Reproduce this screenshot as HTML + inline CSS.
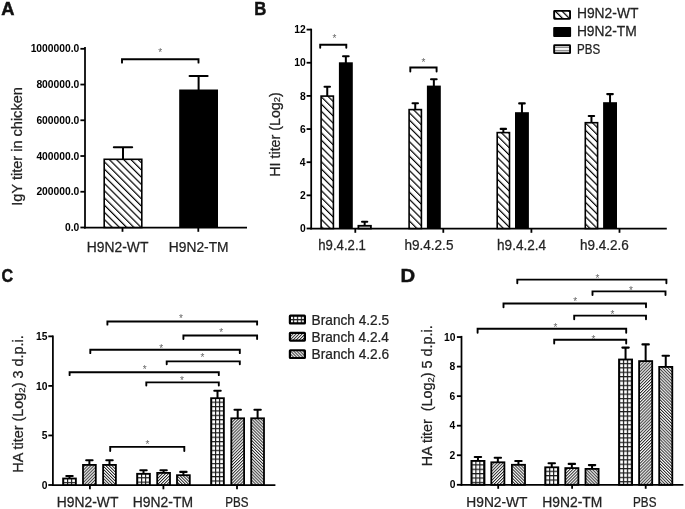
<!DOCTYPE html>
<html><head><meta charset="utf-8"><title>Figure</title>
<style>html,body{margin:0;padding:0;background:#fff;}body{width:685px;height:509px;overflow:hidden;}svg{display:block;}</style>
</head><body>
<svg width="685" height="509" viewBox="0 0 685 509" font-family="Liberation Sans, Arial, sans-serif">
<defs>
<pattern id="hb" patternUnits="userSpaceOnUse" width="5.1" height="10" patternTransform="rotate(-45)"><rect width="5.1" height="10" fill="#fff"/><line x1="0.6" y1="0" x2="0.6" y2="10" stroke="#000" stroke-width="1.2"/></pattern>
<pattern id="fs" patternUnits="userSpaceOnUse" width="2.16" height="10" patternTransform="rotate(45)"><rect width="2.16" height="10" fill="#fff"/><line x1="0.5" y1="0" x2="0.5" y2="10" stroke="#222" stroke-width="0.95"/></pattern>
<pattern id="fb" patternUnits="userSpaceOnUse" width="2.16" height="10" patternTransform="rotate(-45)"><rect width="2.16" height="10" fill="#fff"/><line x1="0.5" y1="0" x2="0.5" y2="10" stroke="#222" stroke-width="0.95"/></pattern>
<pattern id="gr" patternUnits="userSpaceOnUse" width="4" height="4.35"><rect width="4" height="4.35" fill="#fff"/><rect x="0" y="0" width="1.3" height="4.35" fill="#111"/><rect x="0" y="0" width="4" height="1.3" fill="#111"/></pattern>
<pattern id="hbL" patternUnits="userSpaceOnUse" x="0.15" width="4.8" height="10" patternTransform="rotate(-45)"><rect width="4.8" height="10" fill="#fff"/><line x1="0.6" y1="0" x2="0.6" y2="10" stroke="#000" stroke-width="1.3"/></pattern>
<pattern id="pbsL" patternUnits="userSpaceOnUse" y="0.3" width="4" height="3.3"><rect width="4" height="3.3" fill="#fff"/><rect x="0" y="0" width="4" height="1.6" fill="#8a8a8a"/></pattern>
<pattern id="ha" patternUnits="userSpaceOnUse" x="-0.45" width="5.1" height="10" patternTransform="rotate(-45)"><rect width="5.1" height="10" fill="#fff"/><line x1="0.6" y1="0" x2="0.6" y2="10" stroke="#000" stroke-width="1.2"/></pattern>
<pattern id="pbs" patternUnits="userSpaceOnUse" width="4" height="3.4"><rect width="4" height="3.4" fill="#fff"/><rect x="0" y="0" width="4" height="1.5" fill="#999"/></pattern>
</defs>
<rect width="685" height="509" fill="#fff"/>
<line x1="85" y1="47.1" x2="85" y2="228.38" stroke="#000" stroke-width="1.75" stroke-linecap="butt"/>
<line x1="84.12" y1="227.5" x2="247" y2="227.5" stroke="#000" stroke-width="1.75" stroke-linecap="butt"/>
<line x1="80.4" y1="227.5" x2="85" y2="227.5" stroke="#000" stroke-width="1.8" stroke-linecap="butt"/>
<line x1="80.4" y1="191.76" x2="85" y2="191.76" stroke="#000" stroke-width="1.8" stroke-linecap="butt"/>
<line x1="80.4" y1="156.02" x2="85" y2="156.02" stroke="#000" stroke-width="1.8" stroke-linecap="butt"/>
<line x1="80.4" y1="120.28" x2="85" y2="120.28" stroke="#000" stroke-width="1.8" stroke-linecap="butt"/>
<line x1="80.4" y1="84.54" x2="85" y2="84.54" stroke="#000" stroke-width="1.8" stroke-linecap="butt"/>
<line x1="80.4" y1="48.8" x2="85" y2="48.8" stroke="#000" stroke-width="1.8" stroke-linecap="butt"/>
<line x1="122.5" y1="227.5" x2="122.5" y2="231.8" stroke="#000" stroke-width="1.8" stroke-linecap="butt"/>
<line x1="198.3" y1="227.5" x2="198.3" y2="231.8" stroke="#000" stroke-width="1.8" stroke-linecap="butt"/>
<line x1="123" y1="159.5" x2="123" y2="147.3" stroke="#000" stroke-width="2.0" stroke-linecap="butt"/>
<line x1="113.85" y1="147.3" x2="132.15" y2="147.3" stroke="#000" stroke-width="2.1" stroke-linecap="round"/>
<rect x="104.2" y="159.3" width="37.6" height="68.2" fill="url(#ha)" stroke="#000" stroke-width="1.6"/>
<line x1="198.6" y1="90.5" x2="198.6" y2="76" stroke="#000" stroke-width="2.0" stroke-linecap="butt"/>
<line x1="189.6" y1="76" x2="207.6" y2="76" stroke="#000" stroke-width="2.1" stroke-linecap="round"/>
<rect x="179.2" y="89.5" width="38.8" height="138" fill="#000"/>
<path d="M122,62.65 V59.2 H198.5 V62.65" fill="none" stroke="#000" stroke-width="1.9" stroke-linejoin="miter" stroke-linecap="round"/>
<line x1="311.2" y1="28.7" x2="311.2" y2="229.38" stroke="#000" stroke-width="1.75" stroke-linecap="butt"/>
<line x1="310.32" y1="228.5" x2="666.8" y2="228.5" stroke="#000" stroke-width="1.75" stroke-linecap="butt"/>
<line x1="306.6" y1="228.5" x2="311.2" y2="228.5" stroke="#000" stroke-width="1.8" stroke-linecap="butt"/>
<line x1="306.6" y1="195.35" x2="311.2" y2="195.35" stroke="#000" stroke-width="1.8" stroke-linecap="butt"/>
<line x1="306.6" y1="162.2" x2="311.2" y2="162.2" stroke="#000" stroke-width="1.8" stroke-linecap="butt"/>
<line x1="306.6" y1="129.05" x2="311.2" y2="129.05" stroke="#000" stroke-width="1.8" stroke-linecap="butt"/>
<line x1="306.6" y1="95.9" x2="311.2" y2="95.9" stroke="#000" stroke-width="1.8" stroke-linecap="butt"/>
<line x1="306.6" y1="62.75" x2="311.2" y2="62.75" stroke="#000" stroke-width="1.8" stroke-linecap="butt"/>
<line x1="306.6" y1="29.6" x2="311.2" y2="29.6" stroke="#000" stroke-width="1.8" stroke-linecap="butt"/>
<line x1="355.3" y1="228.5" x2="355.3" y2="232.8" stroke="#000" stroke-width="1.8" stroke-linecap="butt"/>
<line x1="443.3" y1="228.5" x2="443.3" y2="232.8" stroke="#000" stroke-width="1.8" stroke-linecap="butt"/>
<line x1="531.4" y1="228.5" x2="531.4" y2="232.8" stroke="#000" stroke-width="1.8" stroke-linecap="butt"/>
<line x1="619.5" y1="228.5" x2="619.5" y2="232.8" stroke="#000" stroke-width="1.8" stroke-linecap="butt"/>
<line x1="327.25" y1="96.3" x2="327.25" y2="86.8" stroke="#000" stroke-width="2.0" stroke-linecap="butt"/>
<line x1="324.55" y1="86.8" x2="329.95" y2="86.8" stroke="#000" stroke-width="2.1" stroke-linecap="round"/>
<rect x="321.1" y="96.1" width="12.3" height="132.4" fill="url(#hb)" stroke="#000" stroke-width="1.6"/>
<line x1="345.85" y1="63.3" x2="345.85" y2="56.2" stroke="#000" stroke-width="2.0" stroke-linecap="butt"/>
<line x1="343.05" y1="56.2" x2="348.65" y2="56.2" stroke="#000" stroke-width="2.1" stroke-linecap="round"/>
<rect x="338.9" y="62.3" width="13.9" height="166.2" fill="#000"/>
<line x1="415.25" y1="109.8" x2="415.25" y2="103.2" stroke="#000" stroke-width="2.0" stroke-linecap="butt"/>
<line x1="412.55" y1="103.2" x2="417.95" y2="103.2" stroke="#000" stroke-width="2.1" stroke-linecap="round"/>
<rect x="409.1" y="109.6" width="12.3" height="118.9" fill="url(#hb)" stroke="#000" stroke-width="1.6"/>
<line x1="433.85" y1="86.6" x2="433.85" y2="79.3" stroke="#000" stroke-width="2.0" stroke-linecap="butt"/>
<line x1="431.05" y1="79.3" x2="436.65" y2="79.3" stroke="#000" stroke-width="2.1" stroke-linecap="round"/>
<rect x="426.9" y="85.6" width="13.9" height="142.9" fill="#000"/>
<line x1="503.35" y1="132.8" x2="503.35" y2="128.9" stroke="#000" stroke-width="2.0" stroke-linecap="butt"/>
<line x1="500.65" y1="128.9" x2="506.05" y2="128.9" stroke="#000" stroke-width="2.1" stroke-linecap="round"/>
<rect x="497.2" y="132.6" width="12.3" height="95.9" fill="url(#hb)" stroke="#000" stroke-width="1.6"/>
<line x1="521.95" y1="113.2" x2="521.95" y2="103.4" stroke="#000" stroke-width="2.0" stroke-linecap="butt"/>
<line x1="519.15" y1="103.4" x2="524.75" y2="103.4" stroke="#000" stroke-width="2.1" stroke-linecap="round"/>
<rect x="515" y="112.2" width="13.9" height="116.3" fill="#000"/>
<line x1="591.45" y1="122.9" x2="591.45" y2="116" stroke="#000" stroke-width="2.0" stroke-linecap="butt"/>
<line x1="588.75" y1="116" x2="594.15" y2="116" stroke="#000" stroke-width="2.1" stroke-linecap="round"/>
<rect x="585.3" y="122.7" width="12.3" height="105.8" fill="url(#hb)" stroke="#000" stroke-width="1.6"/>
<line x1="610.05" y1="103.2" x2="610.05" y2="94.1" stroke="#000" stroke-width="2.0" stroke-linecap="butt"/>
<line x1="607.25" y1="94.1" x2="612.85" y2="94.1" stroke="#000" stroke-width="2.1" stroke-linecap="round"/>
<rect x="603.1" y="102.2" width="13.9" height="126.3" fill="#000"/>
<line x1="364.65" y1="225.9" x2="364.65" y2="221.7" stroke="#000" stroke-width="2.0" stroke-linecap="butt"/>
<line x1="362.05" y1="221.7" x2="367.25" y2="221.7" stroke="#000" stroke-width="2.1" stroke-linecap="round"/>
<rect x="358.4" y="225.8" width="12.5" height="2.7" fill="#fff" stroke="#000" stroke-width="1.8"/>
<path d="M320.2,47.75 V44.7 H346.3 V47.75" fill="none" stroke="#000" stroke-width="1.9" stroke-linejoin="miter" stroke-linecap="round"/>
<path d="M410.3,71.45 V67.5 H436.6 V71.45" fill="none" stroke="#000" stroke-width="1.9" stroke-linejoin="miter" stroke-linecap="round"/>
<rect x="554.15" y="10.85" width="15.9" height="8.0" rx="0.5" fill="url(#hbL)" stroke="#000" stroke-width="1.9"/>
<rect x="553.2" y="27.00" width="17.9" height="9.9" rx="1" fill="#000"/>
<rect x="554.15" y="45.15" width="15.9" height="8.0" rx="0.5" fill="url(#pbsL)" stroke="#000" stroke-width="1.9"/>
<line x1="52.9" y1="335.5" x2="52.9" y2="485.88" stroke="#000" stroke-width="1.75" stroke-linecap="butt"/>
<line x1="52.02" y1="485" x2="275.4" y2="485" stroke="#000" stroke-width="1.75" stroke-linecap="butt"/>
<line x1="48.3" y1="485" x2="52.9" y2="485" stroke="#000" stroke-width="1.8" stroke-linecap="butt"/>
<line x1="48.3" y1="435.45" x2="52.9" y2="435.45" stroke="#000" stroke-width="1.8" stroke-linecap="butt"/>
<line x1="48.3" y1="385.9" x2="52.9" y2="385.9" stroke="#000" stroke-width="1.8" stroke-linecap="butt"/>
<line x1="48.3" y1="336.35" x2="52.9" y2="336.35" stroke="#000" stroke-width="1.8" stroke-linecap="butt"/>
<line x1="89.9" y1="485" x2="89.9" y2="489.3" stroke="#000" stroke-width="1.8" stroke-linecap="butt"/>
<line x1="163.4" y1="485" x2="163.4" y2="489.3" stroke="#000" stroke-width="1.8" stroke-linecap="butt"/>
<line x1="237" y1="485" x2="237" y2="489.3" stroke="#000" stroke-width="1.8" stroke-linecap="butt"/>
<pattern id="g1" patternUnits="userSpaceOnUse" x="67" y="481.9" width="3.95" height="4.38"><rect width="3.95" height="4.38" fill="#fff"/><rect width="1.2" height="4.38" fill="#1c1c1c"/><rect width="3.95" height="1.2" fill="#1c1c1c"/></pattern>
<line x1="69.5" y1="478.6" x2="69.5" y2="476" stroke="#000" stroke-width="2.0" stroke-linecap="butt"/>
<line x1="66.3" y1="476" x2="72.7" y2="476" stroke="#000" stroke-width="2.1" stroke-linecap="round"/>
<rect x="63.1" y="478.5" width="12.8" height="6.5" fill="url(#g1)" stroke="#000" stroke-width="1.8"/>
<line x1="89.4" y1="465" x2="89.4" y2="460.2" stroke="#000" stroke-width="2.0" stroke-linecap="butt"/>
<line x1="86.2" y1="460.2" x2="92.6" y2="460.2" stroke="#000" stroke-width="2.1" stroke-linecap="round"/>
<rect x="83" y="464.9" width="12.8" height="20.1" fill="url(#fs)" stroke="#000" stroke-width="1.8"/>
<line x1="109.5" y1="465" x2="109.5" y2="460.2" stroke="#000" stroke-width="2.0" stroke-linecap="butt"/>
<line x1="106.3" y1="460.2" x2="112.7" y2="460.2" stroke="#000" stroke-width="2.1" stroke-linecap="round"/>
<rect x="103.1" y="464.9" width="12.8" height="20.1" fill="url(#fb)" stroke="#000" stroke-width="1.8"/>
<pattern id="g2" patternUnits="userSpaceOnUse" x="141" y="477.2" width="3.95" height="4.38"><rect width="3.95" height="4.38" fill="#fff"/><rect width="1.2" height="4.38" fill="#1c1c1c"/><rect width="3.95" height="1.2" fill="#1c1c1c"/></pattern>
<line x1="143.5" y1="473.9" x2="143.5" y2="470.3" stroke="#000" stroke-width="2.0" stroke-linecap="butt"/>
<line x1="140.3" y1="470.3" x2="146.7" y2="470.3" stroke="#000" stroke-width="2.1" stroke-linecap="round"/>
<rect x="137.1" y="473.8" width="12.8" height="11.2" fill="url(#g2)" stroke="#000" stroke-width="1.8"/>
<line x1="163.6" y1="473" x2="163.6" y2="470.3" stroke="#000" stroke-width="2.0" stroke-linecap="butt"/>
<line x1="160.4" y1="470.3" x2="166.8" y2="470.3" stroke="#000" stroke-width="2.1" stroke-linecap="round"/>
<rect x="157.2" y="472.9" width="12.8" height="12.1" fill="url(#fs)" stroke="#000" stroke-width="1.8"/>
<line x1="183.4" y1="475.3" x2="183.4" y2="471.9" stroke="#000" stroke-width="2.0" stroke-linecap="butt"/>
<line x1="180.2" y1="471.9" x2="186.6" y2="471.9" stroke="#000" stroke-width="2.1" stroke-linecap="round"/>
<rect x="177" y="475.2" width="12.8" height="9.8" fill="url(#fb)" stroke="#000" stroke-width="1.8"/>
<pattern id="g3" patternUnits="userSpaceOnUse" x="215" y="401.6" width="3.95" height="4.38"><rect width="3.95" height="4.38" fill="#fff"/><rect width="1.2" height="4.38" fill="#1c1c1c"/><rect width="3.95" height="1.2" fill="#1c1c1c"/></pattern>
<line x1="217.5" y1="398.3" x2="217.5" y2="390.8" stroke="#000" stroke-width="2.0" stroke-linecap="butt"/>
<line x1="214.3" y1="390.8" x2="220.7" y2="390.8" stroke="#000" stroke-width="2.1" stroke-linecap="round"/>
<rect x="211.1" y="398.2" width="12.8" height="86.8" fill="url(#g3)" stroke="#000" stroke-width="1.8"/>
<line x1="237.7" y1="418.4" x2="237.7" y2="409.7" stroke="#000" stroke-width="2.0" stroke-linecap="butt"/>
<line x1="234.5" y1="409.7" x2="240.9" y2="409.7" stroke="#000" stroke-width="2.1" stroke-linecap="round"/>
<rect x="231.3" y="418.3" width="12.8" height="66.7" fill="url(#fs)" stroke="#000" stroke-width="1.8"/>
<line x1="257.6" y1="418.4" x2="257.6" y2="409.7" stroke="#000" stroke-width="2.0" stroke-linecap="butt"/>
<line x1="254.4" y1="409.7" x2="260.8" y2="409.7" stroke="#000" stroke-width="2.1" stroke-linecap="round"/>
<rect x="251.2" y="418.3" width="12.8" height="66.7" fill="url(#fb)" stroke="#000" stroke-width="1.8"/>
<path d="M107.4,324.65 V321.5 H257.1 V324.65" fill="none" stroke="#000" stroke-width="1.9" stroke-linejoin="miter" stroke-linecap="round"/>
<path d="M183.4,339.05 V335.5 H257.1 V339.05" fill="none" stroke="#000" stroke-width="1.9" stroke-linejoin="miter" stroke-linecap="round"/>
<path d="M90.3,353.15 V349.8 H239.8 V353.15" fill="none" stroke="#000" stroke-width="1.9" stroke-linejoin="miter" stroke-linecap="round"/>
<path d="M166.7,364.35 V361.4 H239.8 V364.35" fill="none" stroke="#000" stroke-width="1.9" stroke-linejoin="miter" stroke-linecap="round"/>
<path d="M69.6,375.15 V372.2 H218.8 V375.15" fill="none" stroke="#000" stroke-width="1.9" stroke-linejoin="miter" stroke-linecap="round"/>
<path d="M146.3,385.55 V382.4 H218.8 V385.55" fill="none" stroke="#000" stroke-width="1.9" stroke-linejoin="miter" stroke-linecap="round"/>
<path d="M110.2,451.05 V446.9 H184.3 V451.05" fill="none" stroke="#000" stroke-width="1.9" stroke-linejoin="miter" stroke-linecap="round"/>
<pattern id="g4" patternUnits="userSpaceOnUse" x="292.9" y="319.1" width="3.95" height="4.38"><rect width="3.95" height="4.38" fill="#fff"/><rect width="1.2" height="4.38" fill="#1c1c1c"/><rect width="3.95" height="1.2" fill="#1c1c1c"/></pattern>
<rect x="289.9" y="315.65" width="15.0" height="7.75" rx="0.5" fill="url(#g4)" stroke="#000" stroke-width="2.2"/>
<rect x="289.9" y="332.85" width="15.0" height="7.75" rx="0.5" fill="url(#fs)" stroke="#000" stroke-width="2.2"/>
<rect x="289.9" y="350.25" width="15.0" height="7.75" rx="0.5" fill="url(#fb)" stroke="#000" stroke-width="2.2"/>
<line x1="461.5" y1="335.9" x2="461.5" y2="485.68" stroke="#000" stroke-width="1.75" stroke-linecap="butt"/>
<line x1="460.62" y1="484.8" x2="683.4" y2="484.8" stroke="#000" stroke-width="1.75" stroke-linecap="butt"/>
<line x1="456.9" y1="484.8" x2="461.5" y2="484.8" stroke="#000" stroke-width="1.8" stroke-linecap="butt"/>
<line x1="456.9" y1="455.25" x2="461.5" y2="455.25" stroke="#000" stroke-width="1.8" stroke-linecap="butt"/>
<line x1="456.9" y1="425.7" x2="461.5" y2="425.7" stroke="#000" stroke-width="1.8" stroke-linecap="butt"/>
<line x1="456.9" y1="396.15" x2="461.5" y2="396.15" stroke="#000" stroke-width="1.8" stroke-linecap="butt"/>
<line x1="456.9" y1="366.6" x2="461.5" y2="366.6" stroke="#000" stroke-width="1.8" stroke-linecap="butt"/>
<line x1="456.9" y1="337.05" x2="461.5" y2="337.05" stroke="#000" stroke-width="1.8" stroke-linecap="butt"/>
<line x1="498.2" y1="484.8" x2="498.2" y2="488.8" stroke="#000" stroke-width="1.8" stroke-linecap="butt"/>
<line x1="572.1" y1="484.8" x2="572.1" y2="488.8" stroke="#000" stroke-width="1.8" stroke-linecap="butt"/>
<line x1="645.7" y1="484.8" x2="645.7" y2="488.8" stroke="#000" stroke-width="1.8" stroke-linecap="butt"/>
<pattern id="g5" patternUnits="userSpaceOnUse" x="475.3" y="464.3" width="3.95" height="4.38"><rect width="3.95" height="4.38" fill="#fff"/><rect width="1.2" height="4.38" fill="#1c1c1c"/><rect width="3.95" height="1.2" fill="#1c1c1c"/></pattern>
<line x1="477.95" y1="461" x2="477.95" y2="457" stroke="#000" stroke-width="2.0" stroke-linecap="butt"/>
<line x1="474.75" y1="457" x2="481.15" y2="457" stroke="#000" stroke-width="2.1" stroke-linecap="round"/>
<rect x="471.4" y="460.9" width="13.1" height="23.9" fill="url(#g5)" stroke="#000" stroke-width="1.8"/>
<line x1="497.85" y1="462.4" x2="497.85" y2="457.8" stroke="#000" stroke-width="2.0" stroke-linecap="butt"/>
<line x1="494.65" y1="457.8" x2="501.05" y2="457.8" stroke="#000" stroke-width="2.1" stroke-linecap="round"/>
<rect x="491.3" y="462.3" width="13.1" height="22.5" fill="url(#fs)" stroke="#000" stroke-width="1.8"/>
<line x1="518.45" y1="464.9" x2="518.45" y2="461" stroke="#000" stroke-width="2.0" stroke-linecap="butt"/>
<line x1="515.25" y1="461" x2="521.65" y2="461" stroke="#000" stroke-width="2.1" stroke-linecap="round"/>
<rect x="511.9" y="464.8" width="13.1" height="20" fill="url(#fb)" stroke="#000" stroke-width="1.8"/>
<pattern id="g6" patternUnits="userSpaceOnUse" x="549.1" y="470.7" width="3.95" height="4.38"><rect width="3.95" height="4.38" fill="#fff"/><rect width="1.2" height="4.38" fill="#1c1c1c"/><rect width="3.95" height="1.2" fill="#1c1c1c"/></pattern>
<line x1="551.75" y1="467.4" x2="551.75" y2="463.3" stroke="#000" stroke-width="2.0" stroke-linecap="butt"/>
<line x1="548.55" y1="463.3" x2="554.95" y2="463.3" stroke="#000" stroke-width="2.1" stroke-linecap="round"/>
<rect x="545.2" y="467.3" width="13.1" height="17.5" fill="url(#g6)" stroke="#000" stroke-width="1.8"/>
<line x1="571.85" y1="468.2" x2="571.85" y2="463.9" stroke="#000" stroke-width="2.0" stroke-linecap="butt"/>
<line x1="568.65" y1="463.9" x2="575.05" y2="463.9" stroke="#000" stroke-width="2.1" stroke-linecap="round"/>
<rect x="565.3" y="468.1" width="13.1" height="16.7" fill="url(#fs)" stroke="#000" stroke-width="1.8"/>
<line x1="592.05" y1="469" x2="592.05" y2="465.1" stroke="#000" stroke-width="2.0" stroke-linecap="butt"/>
<line x1="588.85" y1="465.1" x2="595.25" y2="465.1" stroke="#000" stroke-width="2.1" stroke-linecap="round"/>
<rect x="585.5" y="468.9" width="13.1" height="15.9" fill="url(#fb)" stroke="#000" stroke-width="1.8"/>
<pattern id="g7" patternUnits="userSpaceOnUse" x="622.9" y="362.9" width="3.95" height="4.38"><rect width="3.95" height="4.38" fill="#fff"/><rect width="1.2" height="4.38" fill="#1c1c1c"/><rect width="3.95" height="1.2" fill="#1c1c1c"/></pattern>
<line x1="625.55" y1="359.6" x2="625.55" y2="347.6" stroke="#000" stroke-width="2.0" stroke-linecap="butt"/>
<line x1="622.35" y1="347.6" x2="628.75" y2="347.6" stroke="#000" stroke-width="2.1" stroke-linecap="round"/>
<rect x="619" y="359.5" width="13.1" height="125.3" fill="url(#g7)" stroke="#000" stroke-width="1.8"/>
<line x1="645.65" y1="361.2" x2="645.65" y2="344.4" stroke="#000" stroke-width="2.0" stroke-linecap="butt"/>
<line x1="642.45" y1="344.4" x2="648.85" y2="344.4" stroke="#000" stroke-width="2.1" stroke-linecap="round"/>
<rect x="639.1" y="361.1" width="13.1" height="123.7" fill="url(#fs)" stroke="#000" stroke-width="1.8"/>
<line x1="665.75" y1="367" x2="665.75" y2="355.8" stroke="#000" stroke-width="2.0" stroke-linecap="butt"/>
<line x1="662.55" y1="355.8" x2="668.95" y2="355.8" stroke="#000" stroke-width="2.1" stroke-linecap="round"/>
<rect x="659.2" y="366.9" width="13.1" height="117.9" fill="url(#fb)" stroke="#000" stroke-width="1.8"/>
<path d="M517.3,283.25 V279.6 H666.4 V283.25" fill="none" stroke="#000" stroke-width="1.9" stroke-linejoin="miter" stroke-linecap="round"/>
<path d="M592.5,295.05 V291.4 H665.5 V295.05" fill="none" stroke="#000" stroke-width="1.9" stroke-linejoin="miter" stroke-linecap="round"/>
<path d="M503.5,307.25 V303.5 H646 V307.25" fill="none" stroke="#000" stroke-width="1.9" stroke-linejoin="miter" stroke-linecap="round"/>
<path d="M574.2,319.35 V315.6 H646 V319.35" fill="none" stroke="#000" stroke-width="1.9" stroke-linejoin="miter" stroke-linecap="round"/>
<path d="M477.6,332.75 V328.8 H626.2 V332.75" fill="none" stroke="#000" stroke-width="1.9" stroke-linejoin="miter" stroke-linecap="round"/>
<path d="M554.2,343.45 V339.8 H626.2 V343.45" fill="none" stroke="#000" stroke-width="1.9" stroke-linejoin="miter" stroke-linecap="round"/>
<text transform="translate(1.27,14.7) scale(0.9647,1)" font-size="19" font-weight="bold" fill="#111" stroke="#111" stroke-width="0.5">A</text>
<text x="65.03" y="231.1" font-size="10.3" font-weight="bold" fill="#000">0.0</text>
<text x="36.4" y="195.36" font-size="10.3" font-weight="bold" fill="#000">200000.0</text>
<text x="36.4" y="159.62" font-size="10.3" font-weight="bold" fill="#000">400000.0</text>
<text x="36.4" y="123.88" font-size="10.3" font-weight="bold" fill="#000">600000.0</text>
<text x="36.4" y="88.14" font-size="10.3" font-weight="bold" fill="#000">800000.0</text>
<text x="30.65" y="52.4" font-size="10.3" font-weight="bold" fill="#000">1000000.0</text>
<text x="158.3" y="56.33" font-size="10" font-weight="normal" fill="#666">*</text>
<text transform="translate(86.8,252.4) scale(0.9769,1)" font-size="14.2" font-weight="normal" fill="#232323" stroke="#232323" stroke-width="0.25">H9N2-WT</text>
<text transform="translate(168.81,252.4) scale(0.9722,1)" font-size="14.2" font-weight="normal" fill="#232323" stroke="#232323" stroke-width="0.25">H9N2-TM</text>
<text transform="translate(22.4,205.67) rotate(-90) scale(0.9961,1)" font-size="14.6" font-weight="normal" fill="#232323" stroke="#232323" stroke-width="0.25" style="white-space:pre">IgY titer in chicken</text>
<text transform="translate(254.35,14.6) scale(0.8774,1)" font-size="19" font-weight="bold" fill="#111" stroke="#111" stroke-width="0.5">B</text>
<text x="300.05" y="232.1" font-size="10.3" font-weight="bold" fill="#000">0</text>
<text x="299.93" y="198.95" font-size="10.3" font-weight="bold" fill="#000">2</text>
<text x="299.68" y="165.8" font-size="10.3" font-weight="bold" fill="#000">4</text>
<text x="299.93" y="132.65" font-size="10.3" font-weight="bold" fill="#000">6</text>
<text x="299.93" y="99.5" font-size="10.3" font-weight="bold" fill="#000">8</text>
<text x="294.3" y="66.35" font-size="10.3" font-weight="bold" fill="#000">10</text>
<text x="294.3" y="33.2" font-size="10.3" font-weight="bold" fill="#000">12</text>
<text x="332.5" y="41.62" font-size="10" font-weight="normal" fill="#666">*</text>
<text x="421.6" y="65.62" font-size="10" font-weight="normal" fill="#666">*</text>
<text transform="translate(318.27,249.8) scale(0.9290,1)" font-size="14.2" font-weight="normal" fill="#232323" stroke="#232323" stroke-width="0.25">h9.4.2.1</text>
<text transform="translate(404.45,249.8) scale(0.9548,1)" font-size="14.2" font-weight="normal" fill="#232323" stroke="#232323" stroke-width="0.25">h9.4.2.5</text>
<text transform="translate(497.04,249.8) scale(0.9564,1)" font-size="14.2" font-weight="normal" fill="#232323" stroke="#232323" stroke-width="0.25">h9.4.2.4</text>
<text transform="translate(580.05,249.8) scale(0.9508,1)" font-size="14.2" font-weight="normal" fill="#232323" stroke="#232323" stroke-width="0.25">h9.4.2.6</text>
<text transform="translate(280.3,176.72) rotate(-90) scale(0.9778,1)" font-size="14.6" font-weight="normal" fill="#232323" stroke="#232323" stroke-width="0.25" style="white-space:pre">HI titer (Log<tspan font-size="0.66em">2</tspan>)</text>
<text transform="translate(576.89,18.3) scale(0.9909,1)" font-size="14.0" font-weight="normal" fill="#232323" stroke="#232323" stroke-width="0.25">H9N2-WT</text>
<text transform="translate(576.89,36.3) scale(0.9884,1)" font-size="14.0" font-weight="normal" fill="#232323" stroke="#232323" stroke-width="0.25">H9N2-TM</text>
<text transform="translate(577.07,53.6) scale(0.8267,1)" font-size="14.0" font-weight="normal" fill="#232323" stroke="#232323" stroke-width="0.25">PBS</text>
<text transform="translate(1.61,281.8) scale(0.8485,1)" font-size="19" font-weight="bold" fill="#111" stroke="#111" stroke-width="0.5">C</text>
<text x="41.85" y="488.6" font-size="10.3" font-weight="bold" fill="#000">0</text>
<text x="41.73" y="439.05" font-size="10.3" font-weight="bold" fill="#000">5</text>
<text x="36.1" y="389.5" font-size="10.3" font-weight="bold" fill="#000">10</text>
<text x="35.98" y="339.95" font-size="10.3" font-weight="bold" fill="#000">15</text>
<text x="179" y="322.12" font-size="10" font-weight="normal" fill="#666">*</text>
<text x="219.2" y="335.93" font-size="10" font-weight="normal" fill="#666">*</text>
<text x="159.3" y="352.22" font-size="10" font-weight="normal" fill="#666">*</text>
<text x="200.6" y="361.43" font-size="10" font-weight="normal" fill="#666">*</text>
<text x="142.8" y="373.22" font-size="10" font-weight="normal" fill="#666">*</text>
<text x="179.9" y="384.43" font-size="10" font-weight="normal" fill="#666">*</text>
<text x="145.5" y="448.22" font-size="10" font-weight="normal" fill="#666">*</text>
<text transform="translate(56.8,506.6) scale(0.9769,1)" font-size="14.2" font-weight="normal" fill="#232323" stroke="#232323" stroke-width="0.25">H9N2-WT</text>
<text transform="translate(132.8,506.6) scale(0.9789,1)" font-size="14.2" font-weight="normal" fill="#232323" stroke="#232323" stroke-width="0.25">H9N2-TM</text>
<text transform="translate(225.18,506.6) scale(0.8188,1)" font-size="14.2" font-weight="normal" fill="#232323" stroke="#232323" stroke-width="0.25">PBS</text>
<text transform="translate(22.7,472.74) rotate(-90) scale(0.9881,1)" font-size="14.6" font-weight="normal" fill="#232323" stroke="#232323" stroke-width="0.25" style="white-space:pre">HA titer (Log<tspan font-size="0.66em" dy="0.25em">2</tspan><tspan dy="-0.164em">) 3 d.p.i.</tspan></text>
<text transform="translate(311.6,324.7) scale(0.9778,1)" font-size="14.0" font-weight="normal" fill="#232323" stroke="#232323" stroke-width="0.25">Branch 4.2.5</text>
<text transform="translate(311.6,342.4) scale(0.9746,1)" font-size="14.0" font-weight="normal" fill="#232323" stroke="#232323" stroke-width="0.25">Branch 4.2.4</text>
<text transform="translate(311.6,359.4) scale(0.9778,1)" font-size="14.0" font-weight="normal" fill="#232323" stroke="#232323" stroke-width="0.25">Branch 4.2.6</text>
<text transform="translate(400.62,282) scale(1.0667,1)" font-size="19" font-weight="bold" fill="#111" stroke="#111" stroke-width="0.5">D</text>
<text x="449.75" y="488.4" font-size="10.3" font-weight="bold" fill="#000">0</text>
<text x="449.62" y="458.85" font-size="10.3" font-weight="bold" fill="#000">2</text>
<text x="449.38" y="429.3" font-size="10.3" font-weight="bold" fill="#000">4</text>
<text x="449.62" y="399.75" font-size="10.3" font-weight="bold" fill="#000">6</text>
<text x="449.62" y="370.2" font-size="10.3" font-weight="bold" fill="#000">8</text>
<text x="444" y="340.65" font-size="10.3" font-weight="bold" fill="#000">10</text>
<text x="595.5" y="281.72" font-size="10" font-weight="normal" fill="#666">*</text>
<text x="629.1" y="293.62" font-size="10" font-weight="normal" fill="#666">*</text>
<text x="573.2" y="305.12" font-size="10" font-weight="normal" fill="#666">*</text>
<text x="610.5" y="318.22" font-size="10" font-weight="normal" fill="#666">*</text>
<text x="553.5" y="330.62" font-size="10" font-weight="normal" fill="#666">*</text>
<text x="591.5" y="342.82" font-size="10" font-weight="normal" fill="#666">*</text>
<text transform="translate(466.31,506.6) scale(0.9688,1)" font-size="14.2" font-weight="normal" fill="#232323" stroke="#232323" stroke-width="0.25">H9N2-WT</text>
<text transform="translate(542.3,506.6) scale(0.9772,1)" font-size="14.2" font-weight="normal" fill="#232323" stroke="#232323" stroke-width="0.25">H9N2-TM</text>
<text transform="translate(633.07,506.6) scale(0.8225,1)" font-size="14.2" font-weight="normal" fill="#232323" stroke="#232323" stroke-width="0.25">PBS</text>
<text transform="translate(431.8,466.23) rotate(-90) scale(0.9840,1)" font-size="14.6" font-weight="normal" fill="#232323" stroke="#232323" stroke-width="0.25" style="white-space:pre">HA titer  (Log<tspan font-size="0.66em" dy="0.25em">2</tspan><tspan dy="-0.164em">) 5 d.p.i.</tspan></text>
</svg>
</body></html>
